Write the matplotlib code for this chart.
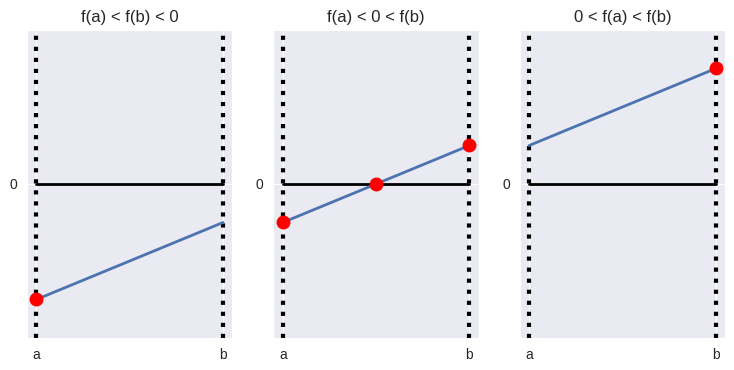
import matplotlib
matplotlib.use("Agg")
import matplotlib.pyplot as plt
import seaborn as sns

sns.set_style("darkgrid")
plt.rcParams['font.family'] = ['Liberation Sans', 'DejaVu Sans']

titles = ["f(a) < f(b) < 0", "f(a) < 0 < f(b)", "0 < f(a) < f(b)"]
x_ends = [0, 1]
fa_values = [-3, -1, 1]
fb_values = [-1, 1, 3]
xtick_labels = ["a", "b"]

fig, axes = plt.subplots(1, 3, figsize=(7.34, 3.7), dpi=100)
fig.subplots_adjust(left=0.0368, right=0.988, top=0.919, bottom=0.0865, wspace=0.2)

for ax, title, fa, fb in zip(axes, titles, fa_values, fb_values):
    ax.plot(x_ends, [fa, fb], color="#4C72B0", lw=2, zorder=3)
    ax.plot(x_ends, [0, 0], color="black", lw=2, zorder=2)
    for xv in x_ends:
        ax.axvline(xv, color="black", ls=":", lw=3, zorder=2)
    pts_x, pts_y = [], []
    if fa < 0:
        pts_x.append(x_ends[0]); pts_y.append(fa)
    if fa < 0 < fb:
        pts_x.append(x_ends[0] + (x_ends[1] - x_ends[0]) * (-fa) / (fb - fa)); pts_y.append(0)
    if fb > 0:
        pts_x.append(x_ends[1]); pts_y.append(fb)
    ax.plot(pts_x, pts_y, "o", color="red", markersize=9, zorder=4, ls="none")
    ax.set_xlim(-0.05, 1.05)
    ax.set_ylim(-4, 4)
    ax.set_xticks(x_ends)
    ax.set_xticklabels(xtick_labels)
    ax.set_yticks([0])
    ax.set_yticklabels(["0"])
    ax.set_title(title, fontsize=12)
    ax.tick_params(labelsize=10)

fig.savefig("out.png", dpi=100)
